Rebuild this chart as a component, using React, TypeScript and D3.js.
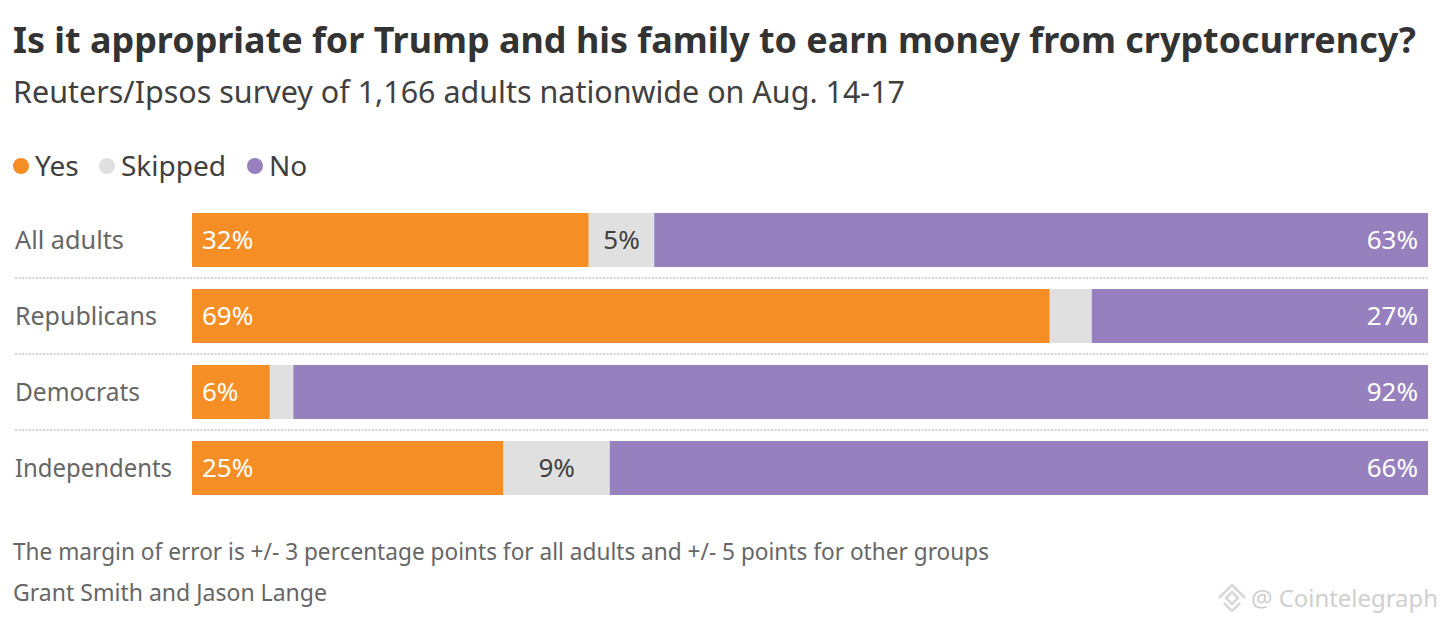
import * as d3 from 'd3';

const groups = ['All adults', 'Republicans', 'Democrats', 'Independents'];
const yesValues = [32.1, 69.4, 6.3, 25.2];
const skippedValues = [5.3, 3.4, 1.9, 8.6];
const noValues = [62.6, 27.2, 91.8, 66.2];
const showSkipped = [true, false, false, true];
const legendNames = ['Yes', 'Skipped', 'No'];
const colors = ['#f68e26', '#e0e0e0', '#9680be'];

const font = '"Noto Sans", sans-serif';
const pct = (v: number) => `${Math.round(v)}%`;

const App = () => {
    const x = d3.scaleLinear().domain([0, 100]).range([192, 1428]);
    const y = d3.scaleBand().domain(groups).range([213, 495]).paddingInner(22 / 76).paddingOuter(0);

    const rows = groups.map((g, i) => {
        const stack = [yesValues[i], skippedValues[i], noValues[i]];
        const total = d3.sum(stack);
        let c = 0;
        const segs = stack.map(v => {
            const s = { x0: c / total * 100, x1: (c + v) / total * 100 };
            c += v;
            return s;
        });
        return { g, i, segs };
    });

    const legendX = [13, 99, 247];
    const groupLabelWidth = [109, 142, 125, 157];
    const labelY = (g: string) => y(g)! + y.bandwidth() / 2 + 9;

    return (
        <svg width={1446} height={622} style={{ position: 'absolute', left: 0, top: 0, background: '#fff', fontFamily: font }}>
            <text x={13} y={53} fontSize={36} fontWeight={700} fill="#333" textLength={1403} lengthAdjust="spacingAndGlyphs">Is it appropriate for Trump and his family to earn money from cryptocurrency?</text>
            <text x={13} y={103} fontSize={31} fill="#404040" textLength={892} lengthAdjust="spacingAndGlyphs">Reuters/Ipsos survey of 1,166 adults nationwide on Aug. 14-17</text>

            {legendNames.map((n, i) => (
                <g key={n}>
                    <circle cx={legendX[i] + 8} cy={166} r={8} fill={colors[i]} />
                    <text x={legendX[i] + 22} y={176} fontSize={28} fill="#404040">{n}</text>
                </g>
            ))}

            {rows.map(r => (
                <g key={r.g}>
                    <text x={15} y={labelY(r.g)} fontSize={25} fill="#666" textLength={groupLabelWidth[r.i]} lengthAdjust="spacingAndGlyphs">{r.g}</text>
                    {r.segs.map((s, k) => (
                        <rect key={k} x={x(s.x0)} y={y(r.g)} width={x(s.x1) - x(s.x0)} height={y.bandwidth()} fill={colors[k]} />
                    ))}
                    <text x={x(0) + 10} y={labelY(r.g)} fontSize={26} fill="#fff">{pct(yesValues[r.i])}</text>
                    {showSkipped[r.i] && (
                        <text x={x((r.segs[1].x0 + r.segs[1].x1) / 2)} y={labelY(r.g)} fontSize={26} fill="#404040" textAnchor="middle">{pct(skippedValues[r.i])}</text>
                    )}
                    <text x={x(100) - 10} y={labelY(r.g)} fontSize={26} fill="#fff" textAnchor="end">{pct(noValues[r.i])}</text>
                    {r.i < groups.length - 1 && (
                        <line x1={15} x2={1428} y1={y(r.g)! + y.bandwidth() + 11} y2={y(r.g)! + y.bandwidth() + 11} stroke="#d4d4d4" strokeWidth={2} strokeDasharray="2 1.5" />
                    )}
                </g>
            ))}

            <text x={13} y={560} fontSize={23} fill="#666" textLength={976} lengthAdjust="spacingAndGlyphs">The margin of error is +/- 3 percentage points for all adults and +/- 5 points for other groups</text>
            <text x={13} y={601} fontSize={23} fill="#666" textLength={314} lengthAdjust="spacingAndGlyphs">Grant Smith and Jason Lange</text>

            <g fill="none" stroke="#d8d8d8" strokeWidth={2.5}>
                <path d="M1232 585 L1240 593 M1232 585 L1224 593 M1232 611 L1240 603 M1232 611 L1224 603 M1219 598 L1224 593 M1245 598 L1240 593 M1226 598 L1232 592 L1238 598 L1232 604 Z" />
            </g>
            <text x={1251} y={607} fontSize={24} fill="#cfcfcf" textLength={187} lengthAdjust="spacingAndGlyphs">@ Cointelegraph</text>
        </svg>
    );
};

export default App;
